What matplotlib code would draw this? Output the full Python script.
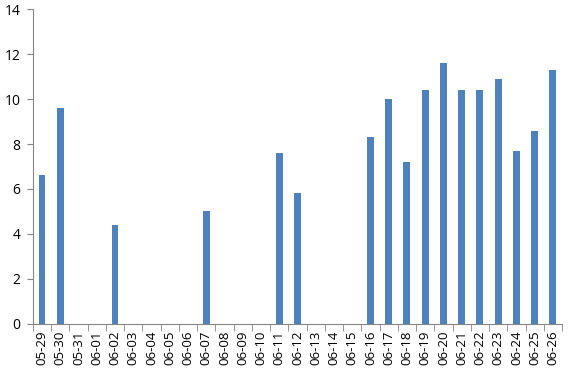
import matplotlib.pyplot as plt
import numpy as np

dates = ['05-29', '05-30', '05-31', '06-01', '06-02', '06-03', '06-04', '06-05',
         '06-06', '06-07', '06-08', '06-09', '06-10', '06-11', '06-12', '06-13',
         '06-14', '06-15', '06-16', '06-17', '06-18', '06-19', '06-20', '06-21',
         '06-22', '06-23', '06-24', '06-25', '06-26']
values = [6.6, 9.6, 0, 0, 4.4, 0, 0, 0,
          0, 5.0, 0, 0, 0, 7.6, 5.8, 0,
          0, 0, 8.3, 10.0, 7.2, 10.4, 11.6, 10.4,
          10.4, 10.9, 7.7, 8.6, 11.3]

plt.rcParams['font.family'] = ['Open Sans', 'DejaVu Sans']

fig = plt.figure(figsize=(5.77, 3.81), dpi=100)
ax = fig.add_axes([0.057, 0.15, 0.917, 0.826])

x = np.arange(len(dates))
ax.bar(x, values, width=0.38, color='#4F81BD')

ax.set_xlim(-0.5, len(dates) - 0.5)
ax.set_ylim(0, 14)
ax.set_yticks(range(0, 15, 2))
ax.tick_params(axis='y', length=4, color='#868686', labelsize=10, pad=5)

ax.set_xticks(x)
ax.set_xticklabels(dates, rotation=90, fontsize=9.5)
ax.tick_params(axis='x', length=0, pad=5)
ax.set_xticks(np.arange(-0.5, len(dates)), minor=True)
ax.tick_params(axis='x', which='minor', length=5, color='#868686')

for s in ['top', 'right']:
    ax.spines[s].set_visible(False)
for s in ['left', 'bottom']:
    ax.spines[s].set_color('#868686')
    ax.spines[s].set_linewidth(0.8)

fig.savefig('out.png', dpi=100)
